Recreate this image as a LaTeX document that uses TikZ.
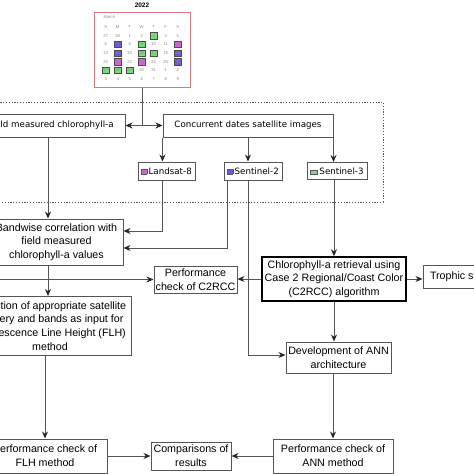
\documentclass[tikz,border=0pt]{standalone}
\usepackage{fontspec}
\setmainfont{Liberation Sans}
\newfontfamily\dvs{DejaVu Sans}
\usetikzlibrary{arrows.meta}
\definecolor{lsat}{HTML}{D562D8}
\definecolor{stwo}{HTML}{6A5BD6}
\definecolor{sthree}{HTML}{72E072}
\definecolor{ln}{HTML}{555555}
\definecolor{calred}{HTML}{D9777F}
\definecolor{caltxt}{HTML}{8A8A8A}
\newcommand\satsq[3]{{\setlength\fboxsep{0pt}\setlength\fboxrule{0.6pt}\fcolorbox{black!65}{#1}{\rule{0pt}{#3}\rule{#2}{0pt}}}}
\begin{document}
\begin{tikzpicture}[x=1pt,y=-1pt,
  box/.style={draw=ln, line width=1pt, inner sep=0pt, align=center, font=\fontsize{10.7}{13.7}\selectfont},
  tbox/.style={box, font=\dvs\fontsize{8.7}{10.5}\selectfont},
  arr/.style={draw=ln, line width=1pt, -{Stealth[length=7pt,width=6pt,color=black!85]}},
  caltext/.style={font=\fontsize{4.2}{5}\selectfont, text=caltxt, inner sep=0pt},
  hl/.style={draw=black!70, line width=0.6pt, fill=#1}
]
\useasboundingbox (0,0) rectangle (474,474);
\clip (0,0) rectangle (474,474);

% calendar
\node[draw=calred, line width=1pt, minimum width=96pt, minimum height=74.5pt, inner sep=0pt] (cal) at (142,49.75) {};
\node[font=\bfseries\fontsize{6.5}{7}\selectfont, inner sep=0pt] (yr) at (142,5) {2022};
\node[caltext, anchor=west] (mar) at (103.3,17) {March};
\foreach \h [count=\c from 0] in {S,M,T,W,T,F,S}
  \node[caltext] (hd\c) at (105.7+12*\c,27) {\h};
% highlights
\foreach \r/\c/\col in {1/4/sthree,2/1/stwo,2/3/sthree,2/6/lsat,3/1/stwo,3/3/sthree,3/4/sthree,3/6/stwo,4/1/lsat,4/3/lsat,4/6/stwo,5/0/sthree,5/1/sthree,5/2/sthree}
  \fill[hl=\col] (105.7+12*\c-3.6,27+8.7*\r-3.2) rectangle (105.7+12*\c+3.6,27+8.7*\r+3.2);
\foreach \r in {1,...,6}
  \foreach \c in {0,...,6}{
    \pgfmathtruncatemacro\v{7*(\r-1)+\c-1}
    \pgfmathtruncatemacro\w{\v<1 ? \v+28 : (\v>31 ? \v-31 : \v)}
    \node[caltext] (d\r\c) at (105.7+12*\c,27+8.7*\r) {\w};
  }

% dotted frame
\draw[ln, line width=1pt, dash pattern=on 1.2pt off 1.6pt] (-10,102) rectangle (383,202);

% boxes
\node[tbox, minimum width=148pt, minimum height=23pt] (field) at (51,125.5) {Field measured chlorophyll-a};
\node[tbox, minimum width=170pt, minimum height=23pt] (conc) at (248,125.5) {Concurrent dates satellite images};
\node[tbox, minimum width=57pt, minimum height=18pt] (landsat) at (166.5,171) {\satsq{lsat}{4.8pt}{4.8pt}\,Landsat-8};
\node[tbox, minimum width=58pt, minimum height=18pt] (sent2) at (253,171) {\satsq{stwo}{4.8pt}{4.8pt}\,Sentinel-2};
\node[tbox, minimum width=60pt, minimum height=17pt] (sent3) at (337,171) {\satsq{sthree}{6.5pt}{3.8pt}\,Sentinel-3};

\node[box, minimum width=133pt, minimum height=46pt] (bw) at (56.5,242) {Bandwise correlation with\\field measured\\chlorophyll-a values};
\node[box, minimum width=83pt, minimum height=27pt] (pc2) at (195.5,279.5) {Performance\\check of C2RCC};
\node[box, draw=black, line width=1.5pt, minimum width=144pt, minimum height=44pt] (c2) at (334,279) {Chlorophyll-a retrieval using\\Case 2 Regional/Coast Color\\(C2RCC) algorithm};
\node[box, minimum width=104pt, minimum height=23pt] (troph) at (475,276.5) {Trophic state index};
\node[box, minimum width=162pt, minimum height=58.5pt] (flh) at (50,325.75) {Selection of appropriate satellite\\imagery and bands as input for\\Fluorescence Line Height (FLH)\\method};
\node[box, minimum width=105pt, minimum height=31pt] (ann) at (338.5,357.5) {Development of ANN\\architecture};
\node[box, minimum width=124pt, minimum height=34pt] (pflh) at (45,456) {Performance check of\\FLH method};
\node[box, minimum width=80pt, minimum height=28pt] (comp) at (191,456) {Comparisons of\\results};
\node[box, minimum width=120pt, minimum height=34pt] (pann) at (333,456) {Performance check of\\ANN method};
\coordinate (lin) at (-20,279.5);

% connectors
\draw[ln, line width=1pt] (cal.south) -- (cal.south |- field.east) coordinate (jn);
\draw[arr] (jn) -- (field.east);
\draw[arr] (jn) -- (conc.west);
\draw[arr] (conc.south west) -- (conc.south west |- landsat.north);
\draw[arr] (conc.south) -- (conc.south |- sent2.north);
\draw[arr] (conc.south east) -- (conc.south east |- sent3.north);
\draw[arr] (conc.south west |- landsat.south) |- ([yshift=11pt]bw.east);
\draw[arr] ([xshift=4pt]sent2.south west) |- ([yshift=-6pt]bw.east);
\draw[arr] (conc.south |- sent2.south) |- ([yshift=2.5pt]ann.west);
\draw[arr] (c2.north |- sent3.south) -- (c2.north);
\draw[arr] ([xshift=-3pt]field.south) -- ([xshift=-3pt]field.south |- bw.north);
\draw[arr] ([xshift=-8.5pt]bw.south) -- ([xshift=-8.5pt]bw.south |- flh.north);
\draw[arr] (lin) -- (pc2.west);
\draw[arr] (c2.west) -- (c2.west -| pc2.east);
\draw[arr] (c2.east) -- (c2.east -| troph.west);
\draw[arr] (c2.south) -- (c2.south |- ann.north);
\draw[arr] (pflh.north |- flh.south) -- (pflh.north);
\draw[arr] (pflh.east) -- (comp.west);
\draw[arr] (pann.west) -- (comp.east);
\draw[arr] (pann.north |- ann.south) -- (pann.north);
\end{tikzpicture}
\end{document}
